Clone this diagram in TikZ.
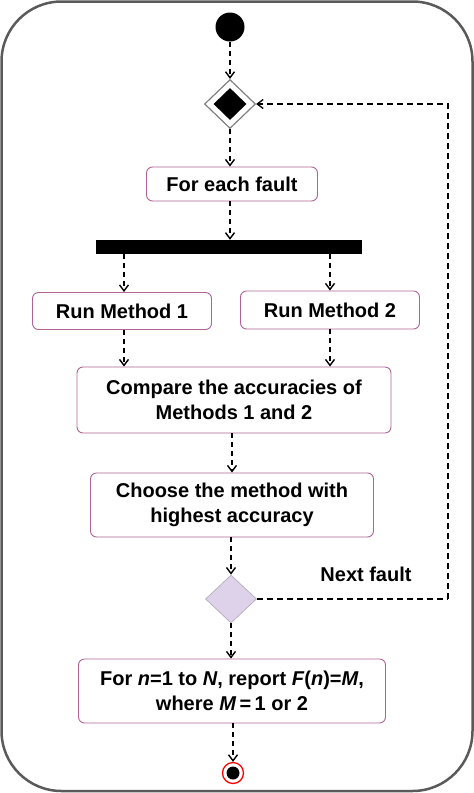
\documentclass[tikz,border=0pt]{standalone}
\usepackage{fontspec}
\setmainfont{Liberation Sans}
\usetikzlibrary{positioning,shapes,arrows.meta}
\definecolor{boxline}{RGB}{176,100,150}
\definecolor{lilac}{RGB}{222,210,234}
\definecolor{frameline}{RGB}{90,90,90}

\begin{document}
\begin{tikzpicture}[x=1pt, y=-1pt,
		font=\bfseries\fontsize{20}{25}\selectfont,
		act/.style={draw=boxline, line width=0.9pt, rounded corners=6pt, fill=white, align=center, inner sep=0pt},
		flow/.style={line width=2pt, dash pattern=on 5pt off 4pt, -{Straight Barb[length=6pt, width=9pt, line width=1.4pt]}},
		loop/.style={line width=1.6pt, dash pattern=on 6pt off 4pt}]
				\draw[frameline, line width=2.5pt, rounded corners=60pt] (1.5,1.5) rectangle (472.5,791);
				\useasboundingbox (0,0) rectangle (474,793);
				\node[circle, fill=black, minimum size=29pt, inner sep=0pt] (S) at (230, 27) {};
				\node[diamond, draw=gray, fill=white, line width=1.2pt, minimum width=51pt, minimum height=49pt, inner sep=0pt] (D) at (230, 104) {};
				\node[diamond, fill=black, minimum width=33pt, minimum height=32pt, inner sep=0pt] (Din) at (230, 104) {};
				\node[act, minimum width=171pt, minimum height=34pt] (E) at (232, 184) {For each fault};
				\node[fill=black, minimum width=266pt, minimum height=14pt, inner sep=0pt] (B) at (229, 247) {};
				\node[act, minimum width=179pt, minimum height=37pt] (M1) at (122, 311) {Run Method 1};
				\node[act, minimum width=179pt, minimum height=38pt] (M2) at (330, 310) {Run Method 2};
				\node[act, minimum width=314pt, minimum height=66pt] (C) at (234, 400) {Compare the accuracies of\\Methods 1 and 2};
				\node[act, minimum width=283pt, minimum height=64pt] (P) at (232, 505) {Choose the method with\\highest accuracy};
				\node[diamond, draw=lilac!60!gray, fill=lilac, line width=0.8pt, minimum width=51pt, minimum height=48pt, inner sep=0pt] (G) at (231, 599) {};
				\node[anchor=base] (NF) at (366, 581) {Next fault};
				\node[act, minimum width=307pt, minimum height=64pt] (R) at (232, 691) {For \textit{n}=1 to \textit{N}, report \textit{F}(\textit{n})=\textit{M},\\where \textit{M}\,=\,1 or 2};
				\node[circle, draw=red, line width=1.3pt, minimum size=21pt, inner sep=0pt] (T) at (233, 773) {};
				\node[circle, fill=black, minimum size=13pt, inner sep=0pt] (Tin) at (233, 773) {};
				\coordinate (K) at (448, 599);
				\draw[flow] (S) -- (D);
				\draw[flow] (D) -- (E.north -| D);
				\draw[flow] (E.south -| D) -- (B.north -| D);
				\draw[flow] (B.south -| 124,0) -- (M1.north -| 124,0);
				\draw[flow] (B.south -| 330,0) -- (M2.north -| 330,0);
				\draw[flow] (M1.south -| 124,0) -- (C.north -| 124,0);
				\draw[flow] (M2.south -| 330,0) -- (C.north -| 330,0);
				\draw[flow] (C.south -| 232,0) -- (P.north -| 232,0);
				\draw[flow] (P.south -| G) -- (G);
				\draw[flow] (G) -- (R.north -| G);
				\draw[flow] (R.south -| T) -- (T);
				\draw[loop] (G.east) -- (K);
				\draw[loop, -{Straight Barb[length=6pt, width=9pt, line width=1.3pt]}] (K) |- (D.east);
			\end{tikzpicture}
\end{document}
